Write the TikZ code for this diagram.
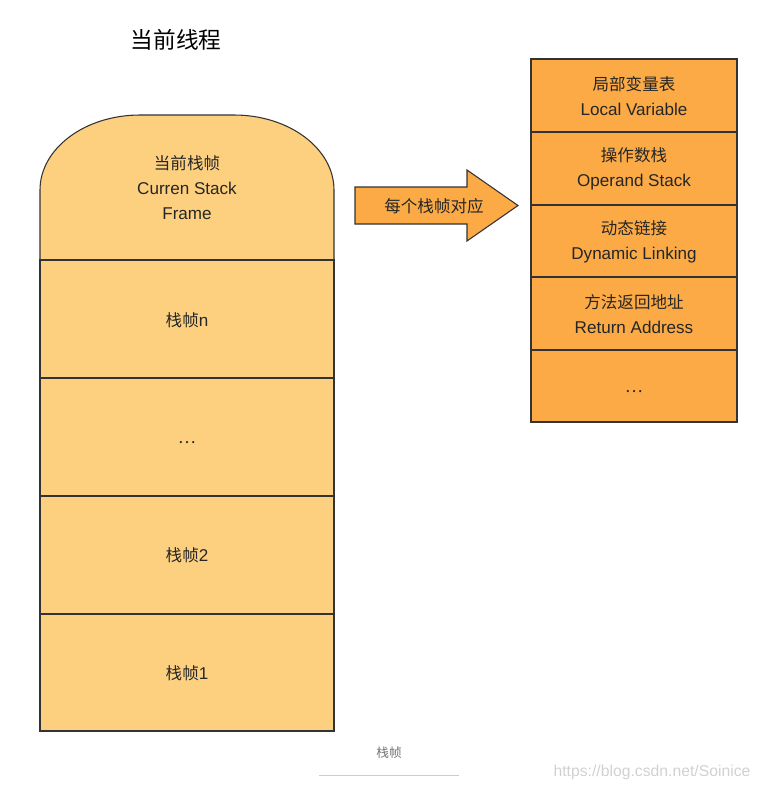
\documentclass[tikz,border=0pt]{standalone}
\usepackage{fontspec}
\setmainfont{Noto Sans CJK SC}
\newfontfamily\urlfont{Liberation Sans}
\newfontfamily\latfont{Liberation Sans}
\usepackage{tikz}
\definecolor{framelight}{RGB}{253,208,127}
\definecolor{framedark}{RGB}{251,170,70}
\definecolor{edgegray}{RGB}{51,51,51}
\tikzset{
  boxtext/.style={align=center,font=\fontsize{12.4}{18.75}\selectfont,text=black!85},
  lightpart/.style={fill=framelight,draw=edgegray,line width=0.8pt},
  darkpart/.style={fill=framedark,draw=edgegray,line width=0.8pt}
}
\newcommand{\lat}[1]{{\latfont\fontsize{12.8}{18.75}\selectfont #1}}

\begin{document}
\begin{tikzpicture}[x=0.75pt,y=0.75pt,yscale=-1,xscale=1]
\useasboundingbox (0,0) rectangle (760,790); %set diagram size 760 x 790

%Title
\node[font=\fontsize{17}{20}\selectfont] (title) at (176,40) {当前线程};

%Shape: Rounded top [current frame]
\draw[lightpart] (40,260) -- (40,190) .. controls (40,148.6) and (84.8,115) .. (140,115) -- (234,115) .. controls (289.2,115) and (334,148.6) .. (334,190) -- (334,260) -- cycle ;
%Shape: Rectangles [frames]
\draw[lightpart] (40,260) rectangle (334,378) ;
\draw[lightpart] (40,378) rectangle (334,496) ;
\draw[lightpart] (40,496) rectangle (334,614) ;
\draw[lightpart] (40,614) rectangle (334,731) ;

\node[boxtext] (current) at (187,188) {当前栈帧\\\lat{Curren Stack}\\\lat{Frame}};
\node[boxtext] (framen) at (187,320) {栈帧\lat{n}};
\node[boxtext] (framedots) at (187,443) {\dots};
\node[boxtext] (frametwo) at (187,555) {栈帧\lat{2}};
\node[boxtext] (frameone) at (187,673) {栈帧\lat{1}};

%Shape: Right Arrow
\draw[darkpart] (355,187) -- (467,187) -- (467,170) -- (518,205.5) -- (467,241) -- (467,224) -- (355,224) -- cycle ;
\node[boxtext] (each) at (434,206) {每个栈帧对应};

%Shape: Rectangles [frame parts]
\draw[darkpart] (531,59) rectangle (737,132) ;
\draw[darkpart] (531,132) rectangle (737,205) ;
\draw[darkpart] (531,205) rectangle (737,277) ;
\draw[darkpart] (531,277) rectangle (737,350) ;
\draw[darkpart] (531,350) rectangle (737,422) ;

\node[boxtext] (localvar) at (634,96) {局部变量表\\\lat{Local Variable}};
\node[boxtext] (operand) at (634,169) {操作数栈\\\lat{Operand Stack}};
\node[boxtext] (dynlink) at (634,242) {动态链接\\\lat{Dynamic Linking}};
\node[boxtext] (retaddr) at (634,314) {方法返回地址\\\lat{Return Address}};
\node[boxtext] (partdots) at (634,392) {\dots};

%Caption
\node[font=\fontsize{9.5}{12}\selectfont,text=black!55] (caption) at (389,753) {栈帧};
\draw[black!20,line width=0.6pt] (319,775) -- (459,775) ;
\node[font=\urlfont\fontsize{11.8}{13}\selectfont,text=black!18] (mark) at (652,772) {https://blog.csdn.net/Soinice};

\end{tikzpicture}
\end{document}
